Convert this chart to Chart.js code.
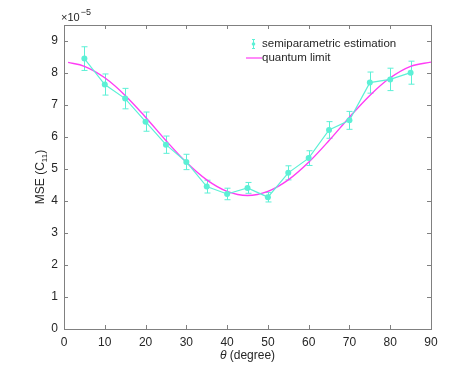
<!DOCTYPE html>
<html>
<head>
<meta charset="utf-8">
<script src="https://cdn.jsdelivr.net/npm/chart.js@4"></script>
<style>
  html, body { margin: 0; padding: 0; background: #fff; }
</style>
</head>
<body>
<canvas id="mseChart" width="474" height="373"></canvas>
<script>
// Semiparametric estimation (x10^-5)
const thetaEst = [5, 10, 15, 20, 25, 30, 35, 40, 45, 50, 55, 60, 65, 70, 75, 80, 85];
const mseEst = [8.45, 7.64, 7.20, 6.48, 5.76, 5.22, 4.45, 4.22, 4.41, 4.12, 4.88, 5.34, 6.22, 6.52, 7.70, 7.80, 8.01];
const mseErr = [0.37, 0.33, 0.32, 0.30, 0.27, 0.24, 0.20, 0.18, 0.17, 0.15, 0.22, 0.23, 0.26, 0.28, 0.33, 0.35, 0.36];

// Quantum limit curve (x10^-5)
const thetaQL = [1, 5, 10, 15, 20, 25, 30, 35, 40, 45, 50, 55, 60, 65, 70, 75, 80, 85, 90];
const mseQL = [8.33, 8.21, 7.85, 7.30, 6.62, 5.89, 5.21, 4.66, 4.30, 4.17, 4.30, 4.66, 5.21, 5.89, 6.62, 7.30, 7.85, 8.21, 8.34];

// Tick labels
const xTicks = [0, 10, 20, 30, 40, 50, 60, 70, 80, 90];
const yTicks = [0, 1, 2, 3, 4, 5, 6, 7, 8, 9];

const cyan = '#5cf0d6';
const magenta = '#ff3cf5';
const axisGrey = '#808080';
const textColor = '#262626';
const fontFamily = '"Liberation Sans", Arial, Helvetica, sans-serif';

// error bars, box, inner ticks, labels, legend
const matlabLook = {
    id: 'matlabLook',
    beforeDatasetsDraw(chart) {
        const ctx = chart.ctx;
        const xs = chart.scales.x, ys = chart.scales.y;
        ctx.save();
        ctx.strokeStyle = cyan;
        ctx.lineWidth = 1;
        thetaEst.forEach((t, i) => {
            const px = Math.round(xs.getPixelForValue(t)) + 0.5;
            const top = ys.getPixelForValue(mseEst[i] + mseErr[i]);
            const bot = ys.getPixelForValue(mseEst[i] - mseErr[i]);
            ctx.beginPath();
            ctx.moveTo(px, top); ctx.lineTo(px, bot);
            ctx.moveTo(px - 3, top); ctx.lineTo(px + 3, top);
            ctx.moveTo(px - 3, bot); ctx.lineTo(px + 3, bot);
            ctx.stroke();
        });
        ctx.restore();
    },
    afterDraw(chart) {
        const ctx = chart.ctx;
        const a = chart.chartArea;
        const xs = chart.scales.x, ys = chart.scales.y;
        ctx.save();
        // box
        ctx.strokeStyle = axisGrey;
        ctx.lineWidth = 1;
        ctx.strokeRect(a.left + 0.5, a.top + 0.5, a.right - a.left, a.bottom - a.top);
        // inward ticks
        const tl = 4;
        ctx.beginPath();
        xTicks.forEach(v => {
            const px = Math.round(xs.getPixelForValue(v)) + 0.5;
            ctx.moveTo(px, a.bottom); ctx.lineTo(px, a.bottom - tl);
            ctx.moveTo(px, a.top); ctx.lineTo(px, a.top + tl);
        });
        yTicks.forEach(v => {
            const py = Math.round(ys.getPixelForValue(v)) + 0.5;
            ctx.moveTo(a.left, py); ctx.lineTo(a.left + tl, py);
            ctx.moveTo(a.right, py); ctx.lineTo(a.right - tl, py);
        });
        ctx.stroke();

        ctx.fillStyle = textColor;
        // exponent label
        ctx.font = '11px ' + fontFamily;
        ctx.textBaseline = 'alphabetic';
        ctx.textAlign = 'left';
        ctx.fillText('\u00d710', a.left - 3, a.top - 4);
        const w10 = ctx.measureText('\u00d710').width;
        ctx.font = '9px ' + fontFamily;
        ctx.fillText('\u22125', a.left - 3 + w10 + 1, a.top - 10);

        // x label: italic theta + " (degree)"
        const th = '\u03b8', rest = ' (degree)';
        ctx.font = '12px ' + fontFamily;
        const wRest = ctx.measureText(rest).width;
        ctx.font = 'italic 12px ' + fontFamily;
        const wTh = ctx.measureText(th).width;
        const startX = (a.left + a.right) / 2 - (wTh + wRest) / 2;
        ctx.textBaseline = 'middle';
        ctx.fillText(th, startX, 356);
        ctx.font = '12px ' + fontFamily;
        ctx.fillText(rest, startX + wTh, 356);

        // y label (rotated) MSE (C_11)
        ctx.save();
        ctx.translate(40, (a.top + a.bottom) / 2);
        ctx.rotate(-Math.PI / 2);
        ctx.font = '12px ' + fontFamily;
        const p1 = 'MSE (C', p3 = ')';
        const w1 = ctx.measureText(p1).width, w3 = ctx.measureText(p3).width;
        ctx.font = '8px ' + fontFamily;
        const w2 = ctx.measureText('11').width;
        const sx = -(w1 + w2 + w3) / 2;
        ctx.textBaseline = 'alphabetic';
        ctx.font = '12px ' + fontFamily;
        ctx.fillText(p1, sx, 4);
        ctx.font = '8px ' + fontFamily;
        ctx.fillText('11', sx + w1, 7);
        ctx.font = '12px ' + fontFamily;
        ctx.fillText(p3, sx + w1 + w2, 4);
        ctx.restore();

        // legend
        const lx = 262;
        ctx.font = '11.5px ' + fontFamily;
        ctx.textBaseline = 'middle';
        ctx.fillStyle = textColor;
        ctx.fillText('semiparametric estimation', lx, 44);
        ctx.fillText('quantum limit', lx, 58);
        ctx.strokeStyle = cyan;
        ctx.lineWidth = 1;
        ctx.beginPath();
        ctx.moveTo(253.5, 39); ctx.lineTo(253.5, 49);
        ctx.moveTo(252, 39.5); ctx.lineTo(255, 39.5);
        ctx.moveTo(252, 48.5); ctx.lineTo(255, 48.5);
        ctx.stroke();
        ctx.fillStyle = cyan;
        ctx.beginPath();
        ctx.arc(253.5, 44, 1.8, 0, Math.PI * 2);
        ctx.fill();
        ctx.strokeStyle = magenta;
        ctx.lineWidth = 1.2;
        ctx.beginPath();
        ctx.moveTo(246, 58); ctx.lineTo(262, 58);
        ctx.stroke();
        ctx.restore();
    }
};

const ctxMse = document.getElementById('mseChart').getContext('2d');
const mseChart = new Chart(ctxMse, {
    type: 'scatter',
    data: {
        datasets: [{
            label: 'semiparametric estimation',
            data: thetaEst.map((t, i) => ({ x: t, y: mseEst[i] })),
            showLine: true,
            borderColor: cyan,
            backgroundColor: cyan,
            borderWidth: 1.2,
            pointRadius: 3,
            pointBorderWidth: 0,
            tension: 0,
        }, {
            label: 'quantum limit',
            data: thetaQL.map((t, i) => ({ x: t, y: mseQL[i] })),
            showLine: true,
            borderColor: magenta,
            backgroundColor: magenta,
            borderWidth: 1.4,
            pointRadius: 0,
            cubicInterpolationMode: 'monotone',
        }]
    },
    options: {
        responsive: false,
        animation: false,
        layout: { padding: { left: 0, top: 25, right: 43, bottom: 0 } },
        scales: {
            x: {
                type: 'linear',
                min: 0,
                max: 90,
                afterBuildTicks: s => { s.ticks = xTicks.map(v => ({ value: v })); },
                afterFit: s => { s.height = 44; },
                grid: { display: false, drawTicks: false },
                border: { display: false },
                ticks: { color: textColor, padding: 6, font: { family: fontFamily, size: 12 } },
            },
            y: {
                min: 0,
                max: 9.5,
                afterBuildTicks: s => { s.ticks = yTicks.map(v => ({ value: v })); },
                afterFit: s => { s.width = 64; },
                grid: { display: false, drawTicks: false },
                border: { display: false },
                ticks: { color: textColor, padding: 6, font: { family: fontFamily, size: 12 } },
            },
        },
        plugins: {
            legend: { display: false },
            tooltip: { enabled: false },
        },
    },
    plugins: [matlabLook],
});
</script>
</body>
</html>
